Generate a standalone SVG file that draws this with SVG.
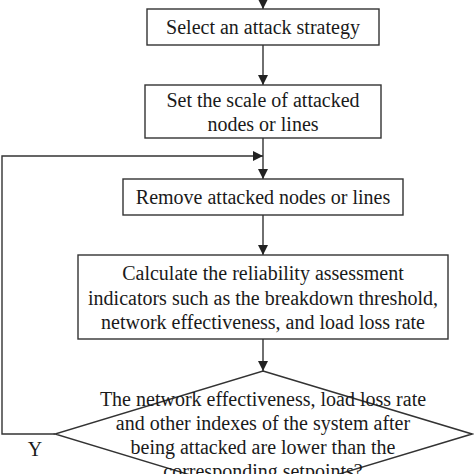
<svg xmlns="http://www.w3.org/2000/svg" width="474" height="474" viewBox="0 0 474 474">
<defs>
<marker id="ah" viewBox="0 0 10 10" refX="10" refY="5" markerWidth="10" markerHeight="10" markerUnits="userSpaceOnUse" orient="auto">
<path d="M0,0 L10,5 L0,10 Z" fill="#222"/>
</marker>
<style>
.box{fill:#fff;stroke:#333;stroke-width:1.4}
.t{font-family:"Liberation Serif","Times New Roman",serif;font-size:20px;fill:#1a1a1a;text-anchor:middle}
.c{fill:none;stroke:#333;stroke-width:1.4}
</style>
</defs>
<rect width="474" height="474" fill="#fff"/>
<g id="connectors">
<line class="c" x1="263" y1="0" x2="263" y2="9" marker-end="url(#ah)"/>
<line class="c" x1="263" y1="45" x2="263" y2="85" marker-end="url(#ah)"/>
<line class="c" x1="263" y1="138" x2="263" y2="179" marker-end="url(#ah)"/>
<line class="c" x1="263" y1="215" x2="263" y2="255" marker-end="url(#ah)"/>
<line class="c" x1="263" y1="339" x2="263" y2="371" marker-end="url(#ah)"/>
<polyline class="c" points="55,434 2,434 2,156 263,156" marker-end="url(#ah)"/>
<text class="t" x="35" y="456">Y</text>
</g>
<g id="n1">
<rect class="box" x="147" y="9" width="232" height="36"/>
<text class="t" x="263" y="34">Select an attack strategy</text>
</g>
<g id="n2">
<rect class="box" x="145" y="85" width="236" height="53"/>
<text class="t" x="263" y="107">Set the scale of attacked</text>
<text class="t" x="263" y="131">nodes or lines</text>
</g>
<g id="n3">
<rect class="box" x="123" y="179" width="280" height="36"/>
<text class="t" x="263" y="204">Remove attacked nodes or lines</text>
</g>
<g id="n4">
<rect class="box" x="78" y="255" width="370" height="84"/>
<text class="t" x="263" y="280">Calculate the reliability assessment</text>
<text class="t" x="263" y="305">indicators such as the breakdown threshold,</text>
<text class="t" x="263" y="329">network effectiveness, and load loss rate</text>
</g>
<g id="n5">
<polygon class="box" points="263,371 472,434 263,497 55,434" style="fill:none"/>
<text class="t" x="263" y="406">The network effectiveness, load loss rate</text>
<text class="t" x="263" y="430">and other indexes of the system after</text>
<text class="t" x="263" y="454">being attacked are lower than the</text>
<text class="t" x="263" y="478">corresponding setpoints?</text>
</g>
</svg>
